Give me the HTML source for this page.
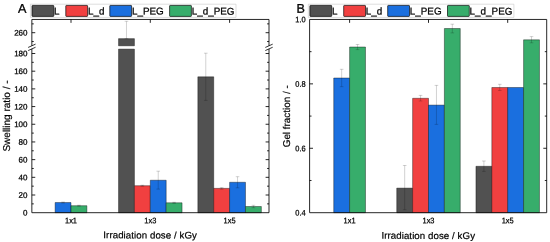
<!DOCTYPE html>
<html><head><meta charset="utf-8"><title>Figure</title>
<style>html,body{margin:0;padding:0;background:#fff}svg{display:block}</style>
</head><body>
<svg width="550" height="242" viewBox="0 0 550 242" font-family="'Liberation Sans', sans-serif" fill="#000" stroke-linejoin="round" text-rendering="geometricPrecision">
<rect width="550" height="242" fill="#fff"/>
<g>
<rect x="55.12" y="202.53" width="15.88" height="10.17" fill="#1A6FDF" stroke="#000" stroke-opacity="0.55" stroke-width="0.7"/>
<path d="M63.06 202.03V203.03M61.26 202.03h3.60M61.26 203.03h3.60" stroke="#000" stroke-opacity="0.36" stroke-width="0.5" fill="none"/>
<rect x="71.00" y="205.71" width="15.88" height="6.99" fill="#37AD6B" stroke="#000" stroke-opacity="0.55" stroke-width="0.7"/>
<path d="M78.94 205.21V206.21M77.14 205.21h3.60M77.14 206.21h3.60" stroke="#000" stroke-opacity="0.36" stroke-width="0.5" fill="none"/>
<rect x="118.54" y="38.65" width="15.88" height="7.15" fill="#515151" stroke="#000" stroke-opacity="0.55" stroke-width="0.7"/>
<rect x="118.54" y="49.10" width="15.88" height="163.60" fill="#515151" stroke="#000" stroke-opacity="0.55" stroke-width="0.7"/>
<path d="M126.48 21.30V38.65M124.68 21.30h3.60M124.68 38.65h3.60" stroke="#000" stroke-opacity="0.36" stroke-width="0.5" fill="none"/>
<rect x="134.42" y="185.72" width="15.88" height="26.98" fill="#F14040" stroke="#000" stroke-opacity="0.55" stroke-width="0.7"/>
<path d="M142.36 185.22V186.22M140.56 185.22h3.60M140.56 186.22h3.60" stroke="#000" stroke-opacity="0.36" stroke-width="0.5" fill="none"/>
<rect x="150.30" y="180.24" width="15.88" height="32.46" fill="#1A6FDF" stroke="#000" stroke-opacity="0.55" stroke-width="0.7"/>
<path d="M158.24 171.20V189.10M156.44 171.20h3.60M156.44 189.10h3.60" stroke="#000" stroke-opacity="0.36" stroke-width="0.5" fill="none"/>
<rect x="166.18" y="202.79" width="15.88" height="9.91" fill="#37AD6B" stroke="#000" stroke-opacity="0.55" stroke-width="0.7"/>
<path d="M174.12 202.29V203.29M172.32 202.29h3.60M172.32 203.29h3.60" stroke="#000" stroke-opacity="0.36" stroke-width="0.5" fill="none"/>
<rect x="197.84" y="76.80" width="15.88" height="135.90" fill="#515151" stroke="#000" stroke-opacity="0.55" stroke-width="0.7"/>
<path d="M205.78 53.20V100.40M203.98 53.20h3.60M203.98 100.40h3.60" stroke="#000" stroke-opacity="0.36" stroke-width="0.5" fill="none"/>
<rect x="213.72" y="188.38" width="15.88" height="24.32" fill="#F14040" stroke="#000" stroke-opacity="0.55" stroke-width="0.7"/>
<path d="M221.66 187.58V189.18M219.86 187.58h3.60M219.86 189.18h3.60" stroke="#000" stroke-opacity="0.36" stroke-width="0.5" fill="none"/>
<rect x="229.60" y="182.28" width="15.88" height="30.42" fill="#1A6FDF" stroke="#000" stroke-opacity="0.55" stroke-width="0.7"/>
<path d="M237.54 176.70V187.80M235.74 176.70h3.60M235.74 187.80h3.60" stroke="#000" stroke-opacity="0.36" stroke-width="0.5" fill="none"/>
<rect x="245.48" y="206.51" width="15.88" height="6.19" fill="#37AD6B" stroke="#000" stroke-opacity="0.55" stroke-width="0.7"/>
<path d="M253.42 205.31V207.71M251.62 205.31h3.60M251.62 207.71h3.60" stroke="#000" stroke-opacity="0.36" stroke-width="0.5" fill="none"/>
</g>
<path d="M31.85 45.8V19.45H269.0V45.8M269.0 48.9V212.7H31.85V48.9M31.85 195.01h3.4M269.0 195.01h-3.4M31.85 177.32h3.4M269.0 177.32h-3.4M31.85 159.63h3.4M269.0 159.63h-3.4M31.85 141.94h3.4M269.0 141.94h-3.4M31.85 124.26h3.4M269.0 124.26h-3.4M31.85 106.57h3.4M269.0 106.57h-3.4M31.85 88.88h3.4M269.0 88.88h-3.4M31.85 71.19h3.4M269.0 71.19h-3.4M31.85 53.50h3.4M269.0 53.50h-3.4M31.85 32.70h3.4M269.0 32.70h-3.4M31.85 203.86h1.9M269.0 203.86h-1.9M31.85 186.17h1.9M269.0 186.17h-1.9M31.85 168.48h1.9M269.0 168.48h-1.9M31.85 150.79h1.9M269.0 150.79h-1.9M31.85 133.10h1.9M269.0 133.10h-1.9M31.85 115.41h1.9M269.0 115.41h-1.9M31.85 97.72h1.9M269.0 97.72h-1.9M31.85 80.03h1.9M269.0 80.03h-1.9M31.85 62.34h1.9M269.0 62.34h-1.9M31.85 41.54h1.9M269.0 41.54h-1.9M31.85 23.86h1.9M269.0 23.86h-1.9M71.00 19.45v3.4M150.30 19.45v3.4M229.60 19.45v3.4" stroke="#000" stroke-width="0.85" fill="none"/>
<path d="M28.15 47.45L35.55 44.15" stroke="#000" stroke-width="0.8" fill="none"/>
<path d="M28.15 50.55L35.55 47.25" stroke="#000" stroke-width="0.8" fill="none"/>
<path d="M265.30 47.45L272.70 44.15" stroke="#000" stroke-width="0.8" fill="none"/>
<path d="M265.30 50.55L272.70 47.25" stroke="#000" stroke-width="0.8" fill="none"/>
<text transform="translate(27.50 215.56) rotate(0.05)" font-size="8.0" text-anchor="end" stroke="#000" stroke-width="0.25">0</text>
<text transform="translate(27.50 197.88) rotate(0.05)" font-size="8.0" text-anchor="end" stroke="#000" stroke-width="0.25">20</text>
<text transform="translate(27.50 180.19) rotate(0.05)" font-size="8.0" text-anchor="end" stroke="#000" stroke-width="0.25">40</text>
<text transform="translate(27.50 162.50) rotate(0.05)" font-size="8.0" text-anchor="end" stroke="#000" stroke-width="0.25">60</text>
<text transform="translate(27.50 144.81) rotate(0.05)" font-size="8.0" text-anchor="end" stroke="#000" stroke-width="0.25">80</text>
<text transform="translate(27.50 127.12) rotate(0.05)" font-size="8.0" text-anchor="end" stroke="#000" stroke-width="0.25">100</text>
<text transform="translate(27.50 109.43) rotate(0.05)" font-size="8.0" text-anchor="end" stroke="#000" stroke-width="0.25">120</text>
<text transform="translate(27.50 91.74) rotate(0.05)" font-size="8.0" text-anchor="end" stroke="#000" stroke-width="0.25">140</text>
<text transform="translate(27.50 74.05) rotate(0.05)" font-size="8.0" text-anchor="end" stroke="#000" stroke-width="0.25">160</text>
<text transform="translate(27.50 56.36) rotate(0.05)" font-size="8.0" text-anchor="end" stroke="#000" stroke-width="0.25">180</text>
<text transform="translate(27.50 35.56) rotate(0.05)" font-size="8.0" text-anchor="end" stroke="#000" stroke-width="0.25">260</text>
<text transform="translate(71.00 223.30) rotate(0.05) scale(0.93 1)" font-size="8.0" text-anchor="middle" stroke="#000" stroke-width="0.25">1x1</text>
<text transform="translate(150.30 223.30) rotate(0.05) scale(0.93 1)" font-size="8.0" text-anchor="middle" stroke="#000" stroke-width="0.25">1x3</text>
<text transform="translate(229.60 223.30) rotate(0.05) scale(0.93 1)" font-size="8.0" text-anchor="middle" stroke="#000" stroke-width="0.25">1x5</text>
<rect x="30.40" y="4.2" width="205.6" height="13.2" fill="#fff" stroke="#c8c8c8" stroke-width="0.6"/>
<rect x="32.00" y="5.4" width="21.8" height="11.0" rx="0.6" fill="#515151" stroke="#000" stroke-opacity="0.75" stroke-width="0.9"/>
<text transform="translate(54.10 14.60) rotate(0.05)" font-size="9.9" text-anchor="start" stroke="#000" stroke-width="0.25">L</text>
<rect x="65.80" y="5.4" width="21.8" height="11.0" rx="0.6" fill="#F14040" stroke="#000" stroke-opacity="0.75" stroke-width="0.9"/>
<text transform="translate(87.90 14.60) rotate(0.05)" font-size="9.9" text-anchor="start" stroke="#000" stroke-width="0.25">L_d</text>
<rect x="109.80" y="5.4" width="21.8" height="11.0" rx="0.6" fill="#1A6FDF" stroke="#000" stroke-opacity="0.75" stroke-width="0.9"/>
<text transform="translate(131.90 14.60) rotate(0.05)" font-size="9.9" text-anchor="start" stroke="#000" stroke-width="0.25">L_PEG</text>
<rect x="169.60" y="5.4" width="21.8" height="11.0" rx="0.6" fill="#37AD6B" stroke="#000" stroke-opacity="0.75" stroke-width="0.9"/>
<text transform="translate(191.70 14.60) rotate(0.05)" font-size="9.9" text-anchor="start" stroke="#000" stroke-width="0.25">L_d_PEG</text>
<text transform="translate(17.90 12.70) rotate(0.05)" font-size="12.6" text-anchor="start" stroke="#000" stroke-width="0.3">A</text>
<text transform="translate(10.2 116) rotate(-90)" font-size="10" text-anchor="middle" stroke="#000" stroke-width="0.2">Swelling ratio / -</text>
<text transform="translate(150.10 238.40) rotate(0.05)" font-size="9.7" text-anchor="middle" stroke="#000" stroke-width="0.2" textLength="93.6">Irradiation dose / kGy</text>
<g>
<rect x="333.72" y="78.00" width="15.88" height="134.70" fill="#1A6FDF" stroke="#000" stroke-opacity="0.55" stroke-width="0.7"/>
<path d="M341.66 69.30V86.70M339.86 69.30h3.60M339.86 86.70h3.60" stroke="#000" stroke-opacity="0.36" stroke-width="0.5" fill="none"/>
<rect x="349.60" y="47.00" width="15.88" height="165.70" fill="#37AD6B" stroke="#000" stroke-opacity="0.55" stroke-width="0.7"/>
<path d="M357.54 44.50V49.60M355.74 44.50h3.60M355.74 49.60h3.60" stroke="#000" stroke-opacity="0.36" stroke-width="0.5" fill="none"/>
<rect x="396.74" y="188.10" width="15.88" height="24.60" fill="#515151" stroke="#000" stroke-opacity="0.55" stroke-width="0.7"/>
<path d="M404.68 165.50V209.70M402.88 165.50h3.60M402.88 209.70h3.60" stroke="#000" stroke-opacity="0.36" stroke-width="0.5" fill="none"/>
<rect x="412.62" y="98.30" width="15.88" height="114.40" fill="#F14040" stroke="#000" stroke-opacity="0.55" stroke-width="0.7"/>
<path d="M420.56 95.40V101.00M418.76 95.40h3.60M418.76 101.00h3.60" stroke="#000" stroke-opacity="0.36" stroke-width="0.5" fill="none"/>
<rect x="428.50" y="105.10" width="15.88" height="107.60" fill="#1A6FDF" stroke="#000" stroke-opacity="0.55" stroke-width="0.7"/>
<path d="M436.44 85.40V124.40M434.64 85.40h3.60M434.64 124.40h3.60" stroke="#000" stroke-opacity="0.36" stroke-width="0.5" fill="none"/>
<rect x="444.38" y="28.50" width="15.88" height="184.20" fill="#37AD6B" stroke="#000" stroke-opacity="0.55" stroke-width="0.7"/>
<path d="M452.32 24.20V32.90M450.52 24.20h3.60M450.52 32.90h3.60" stroke="#000" stroke-opacity="0.36" stroke-width="0.5" fill="none"/>
<rect x="475.94" y="166.30" width="15.88" height="46.40" fill="#515151" stroke="#000" stroke-opacity="0.55" stroke-width="0.7"/>
<path d="M483.88 161.00V171.40M482.08 161.00h3.60M482.08 171.40h3.60" stroke="#000" stroke-opacity="0.36" stroke-width="0.5" fill="none"/>
<rect x="491.82" y="87.50" width="15.88" height="125.20" fill="#F14040" stroke="#000" stroke-opacity="0.55" stroke-width="0.7"/>
<path d="M499.76 84.30V90.50M497.96 84.30h3.60M497.96 90.50h3.60" stroke="#000" stroke-opacity="0.36" stroke-width="0.5" fill="none"/>
<rect x="507.70" y="87.50" width="15.88" height="125.20" fill="#1A6FDF" stroke="#000" stroke-opacity="0.55" stroke-width="0.7"/>
<rect x="523.58" y="39.80" width="15.88" height="172.90" fill="#37AD6B" stroke="#000" stroke-opacity="0.55" stroke-width="0.7"/>
<path d="M531.52 36.60V42.80M529.72 36.60h3.60M529.72 42.80h3.60" stroke="#000" stroke-opacity="0.36" stroke-width="0.5" fill="none"/>
</g>
<path d="M309.6 19.45H546.7V212.7H309.6ZM309.6 148.28h3.4M546.7 148.28h-3.4M309.6 83.87h3.4M546.7 83.87h-3.4M309.6 180.49h1.9M546.7 180.49h-1.9M309.6 116.08h1.9M546.7 116.08h-1.9M309.6 51.66h1.9M546.7 51.66h-1.9M349.60 19.45v3.4M428.50 19.45v3.4M507.70 19.45v3.4" stroke="#000" stroke-width="0.85" fill="none"/>
<text transform="translate(305.60 215.56) rotate(0.05) scale(0.93 1)" font-size="8.0" text-anchor="end" stroke="#000" stroke-width="0.25">0.4</text>
<text transform="translate(305.60 151.15) rotate(0.05) scale(0.93 1)" font-size="8.0" text-anchor="end" stroke="#000" stroke-width="0.25">0.6</text>
<text transform="translate(305.60 86.73) rotate(0.05) scale(0.93 1)" font-size="8.0" text-anchor="end" stroke="#000" stroke-width="0.25">0.8</text>
<text transform="translate(305.60 22.31) rotate(0.05) scale(0.93 1)" font-size="8.0" text-anchor="end" stroke="#000" stroke-width="0.25">1.0</text>
<text transform="translate(349.60 223.30) rotate(0.05) scale(0.93 1)" font-size="8.0" text-anchor="middle" stroke="#000" stroke-width="0.25">1x1</text>
<text transform="translate(428.50 223.30) rotate(0.05) scale(0.93 1)" font-size="8.0" text-anchor="middle" stroke="#000" stroke-width="0.25">1x3</text>
<text transform="translate(507.70 223.30) rotate(0.05) scale(0.93 1)" font-size="8.0" text-anchor="middle" stroke="#000" stroke-width="0.25">1x5</text>
<rect x="308.30" y="4.2" width="205.6" height="13.2" fill="#fff" stroke="#c8c8c8" stroke-width="0.6"/>
<rect x="309.90" y="5.4" width="21.8" height="11.0" rx="0.6" fill="#515151" stroke="#000" stroke-opacity="0.75" stroke-width="0.9"/>
<text transform="translate(332.00 14.60) rotate(0.05)" font-size="9.9" text-anchor="start" stroke="#000" stroke-width="0.25">L</text>
<rect x="343.70" y="5.4" width="21.8" height="11.0" rx="0.6" fill="#F14040" stroke="#000" stroke-opacity="0.75" stroke-width="0.9"/>
<text transform="translate(365.80 14.60) rotate(0.05)" font-size="9.9" text-anchor="start" stroke="#000" stroke-width="0.25">L_d</text>
<rect x="387.70" y="5.4" width="21.8" height="11.0" rx="0.6" fill="#1A6FDF" stroke="#000" stroke-opacity="0.75" stroke-width="0.9"/>
<text transform="translate(409.80 14.60) rotate(0.05)" font-size="9.9" text-anchor="start" stroke="#000" stroke-width="0.25">L_PEG</text>
<rect x="447.50" y="5.4" width="21.8" height="11.0" rx="0.6" fill="#37AD6B" stroke="#000" stroke-opacity="0.75" stroke-width="0.9"/>
<text transform="translate(469.60 14.60) rotate(0.05)" font-size="9.9" text-anchor="start" stroke="#000" stroke-width="0.25">L_d_PEG</text>
<text transform="translate(296.60 12.70) rotate(0.05)" font-size="12.6" text-anchor="start" stroke="#000" stroke-width="0.3">B</text>
<text transform="translate(290.3 116.3) rotate(-90)" font-size="9.9" text-anchor="middle" stroke="#000" stroke-width="0.2">Gel fraction / -</text>
<text transform="translate(428.20 238.90) rotate(0.05)" font-size="9.7" text-anchor="middle" stroke="#000" stroke-width="0.2" textLength="93.6">Irradiation dose / kGy</text>
</svg>
</body></html>
